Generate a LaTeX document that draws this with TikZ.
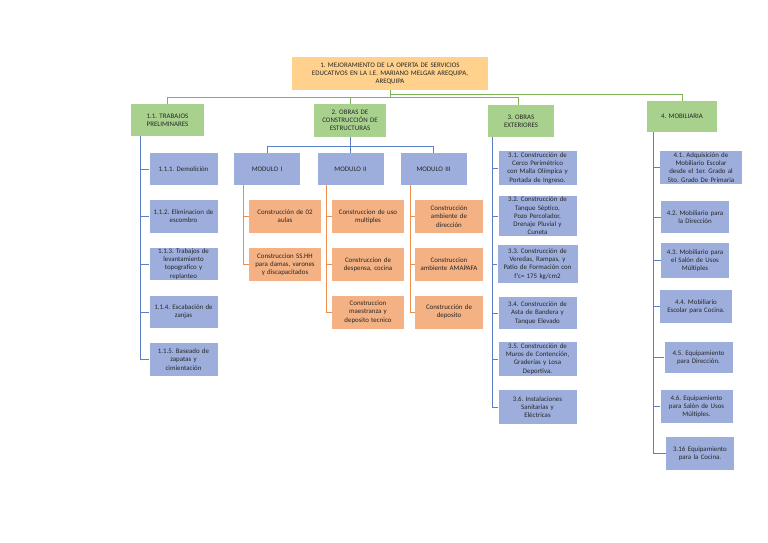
\documentclass[tikz,border=0pt]{standalone}
\usepackage{fontspec}
\setmainfont{Carlito}
\frenchspacing
\definecolor{rootc}{HTML}{FFD18C}
\definecolor{grn}{HTML}{A9D18E}
\definecolor{blu}{HTML}{9DAEDD}
\definecolor{org}{HTML}{F4B183}
\definecolor{lgrn}{HTML}{7FB35A}
\definecolor{lblu}{HTML}{5B7FC4}
\definecolor{lorg}{HTML}{ED8E4A}
\definecolor{txt}{HTML}{262626}
\tikzset{
  box/.style={rectangle, inner sep=1pt, align=center, text=txt,
    font=\fontsize{6.9}{8.2}\selectfont\frenchspacing},
  rootbox/.style={box, fill=rootc},
  gbox/.style={box, fill=grn},
  bbox/.style={box, fill=blu},
  obox/.style={box, fill=org},
  gl/.style={draw=lgrn, line width=0.9pt},
  bl/.style={draw=lblu, line width=0.9pt},
  ol/.style={draw=lorg, line width=0.9pt},
}
\newcommand{\bx}[7]{\node[#1, minimum width=#4pt, minimum height=#5pt, text width=#6pt] (#2) at (#3) {#7};}
\begin{document}
\begin{tikzpicture}[x=1pt,y=-1pt]
\useasboundingbox[fill=white] (0,0) rectangle (768,543);
% root and level 1
\bx{rootbox}{root}{390,73.5}{196}{33}{192}{1. MEJORAMIENTO DE LA OPERTA DE SERVICIOS\\EDUCATIVOS EN LA I.E. MARIANO MELGAR AREQUIPA,\\AREQUIPA}
\bx{gbox}{g1}{167.5,120}{73}{32}{70}{1.1. TRABAJOS\\PRELIMINARES}
\bx{gbox}{g2}{350,120.5}{72}{33}{70}{2. OBRAS DE\\CONSTRUCCIÓN DE\\ESTRUCTURAS}
\bx{gbox}{g3}{521,121}{66}{32}{64}{3. OBRAS\\EXTERIORES}
\bx{gbox}{g4}{682,116.5}{70}{31}{68}{4. MOBILIARIA}
% column 1.1
\bx{bbox}{b1}{183.5,169}{67}{32}{66}{1.1.1. Demolición}
\bx{bbox}{b2}{183.5,216.5}{67}{33}{66}{1.1.2. Eliminacion de\\escombro}
\bx{bbox}{b3}{183.5,264}{67}{32}{66}{1.1.3. Trabajos de\\levantamiento\\topografico y\\replanteo}
\bx{bbox}{b4}{183.5,312}{67}{32}{66}{1.1.4. Escabación de\\zanjas}
\bx{bbox}{b5}{183.5,359.5}{67}{33}{66}{1.1.5. Baseado de\\zapatas y\\cimientación}
% modules
\bx{bbox}{m1}{267,169}{66}{32}{64}{MODULO I}
\bx{bbox}{m2}{350.5,169}{66}{32}{64}{MODULO II}
\bx{bbox}{m3}{433.5,169}{66}{32}{64}{MODULO III}
% orange
\bx{obox}{o11}{285,216.5}{70}{33}{70}{Construcción de 02\\aulas}
\bx{obox}{o12}{285,264.5}{70}{33}{70}{Construccion SS.HH\\para damas, varones\\y discapacitados}
\bx{obox}{o21}{368,216.5}{70}{33}{70}{Construccion de uso\\multiples}
\bx{obox}{o22}{368,264.5}{70}{33}{70}{Construccion de\\despensa, cocina}
\bx{obox}{o23}{368,312}{70}{33}{70}{Construccion\\maestranza y\\deposito tecnico}
\bx{obox}{o31}{449,216.5}{64}{33}{66}{Construcción\\ambiente de\\dirección}
\bx{obox}{o32}{449,264.5}{64}{33}{66}{Construccion\\ambiente AMAPAFA}
\bx{obox}{o33}{449,312}{64}{33}{66}{Construcción de\\deposito}
% column 3
\bx{bbox}{c1}{537.5,168}{75}{34}{76}{3.1. Construcción de\\Cerco Perimétrico\\con Malla Olímpica y\\Portada de Ingreso.}
\bx{bbox}{c2}{537.5,216}{75}{40}{76}{3.2. Construcción de\\Tanque Séptico,\\Pozo Percolador,\\Drenaje Pluvial y\\Cuneta}
\bx{bbox}{c3}{537.5,264}{75}{38}{78}{3.3. Construcción de\\Veredas, Rampas, y\\Patio de Formación con\\f'c= 175 kg/cm2}
\bx{bbox}{c4}{537.5,313}{75}{32}{76}{3.4. Construcción de\\Asta de Bandera y\\Tanque Elevado}
\bx{bbox}{c5}{537.5,359}{75}{34}{76}{3.5. Construcción de\\Muros de Contención,\\Graderías y Losa\\Deportiva.}
\bx{bbox}{c6}{537.5,407}{75}{34}{76}{3.6. Instalaciones\\Sanitarias y\\Eléctricas}
% column 4
\bx{bbox}{d1}{701,167.5}{78}{33}{80}{4.1. Adquisición de\\Mobiliario Escolar\\desde el 1er. Grado al\\5to. Grado De Primaria}
\bx{bbox}{d2}{695,217}{66}{32}{66}{4.2. Mobiliario para\\la Dirección}
\bx{bbox}{d3}{695,260.5}{66}{35}{66}{4.3. Mobiliario para\\el Salón de Usos\\Múltiples}
\bx{bbox}{d4}{696,306.5}{68}{33}{70}{4.4. Mobiliario\\Escolar para Cocina.}
\bx{bbox}{d5}{698.5,357.5}{65}{31}{66}{4.5. Equipamiento\\para Dirección.}
\bx{bbox}{d6}{696.5,406.5}{69}{33}{70}{4.6. Equipamiento\\para Salón de Usos\\Múltiples.}
\bx{bbox}{d7}{700,453.5}{66}{33}{66}{3.16 Equipamiento\\para la Cocina.}
% junction coordinates
\coordinate (j1) at (390,94);
\coordinate (j2) at (390,97);
\coordinate (mb) at (350,146);
\coordinate (t1) at (140,0);
\coordinate (t2) at (243,0);
\coordinate (t3) at (326,0);
\coordinate (t4) at (410,0);
\coordinate (t5) at (492,0);
\coordinate (t6) at (653,0);
% level-1 connectors
\draw[gl] (root.south) -- (j2);
\draw[gl] (j1) -| (g4.north);
\draw[gl] (g1.north) |- (j2);
\draw[gl] (j2) -| (g3.north -| 518,0);
\draw[gl] (g2.north) -- (g2.north |- j2);
% column 1.1
\foreach \n in {b1,b2,b3,b4,b5}{\draw[bl] (g1.south -| t1) |- (\n.west);}
% modules
\draw[bl] (g2.south) -- (mb);
\draw[bl] (mb) -| (m1.north);
\draw[bl] (mb) -| (m3.north);
\draw[bl] (mb) -- (m2.north |- mb) -- (m2.north);
% orange
\foreach \n in {o11,o12}{\draw[ol] (m1.south -| t2) |- (\n.west);}
\foreach \n in {o21,o22,o23}{\draw[ol] (m2.south -| t3) |- (\n.west);}
\foreach \n in {o31,o32,o33}{\draw[ol] (m3.south -| t4) |- (\n.west);}
% column 3 and 4
\foreach \n in {c1,c2,c3,c4,c5,c6}{\draw[bl] (g3.south -| t5) |- (\n.west);}
\foreach \n in {d1,d2,d3,d4,d5,d6,d7}{\draw[bl] (g4.south -| t6) |- (\n.west);}
\end{tikzpicture}
\end{document}
